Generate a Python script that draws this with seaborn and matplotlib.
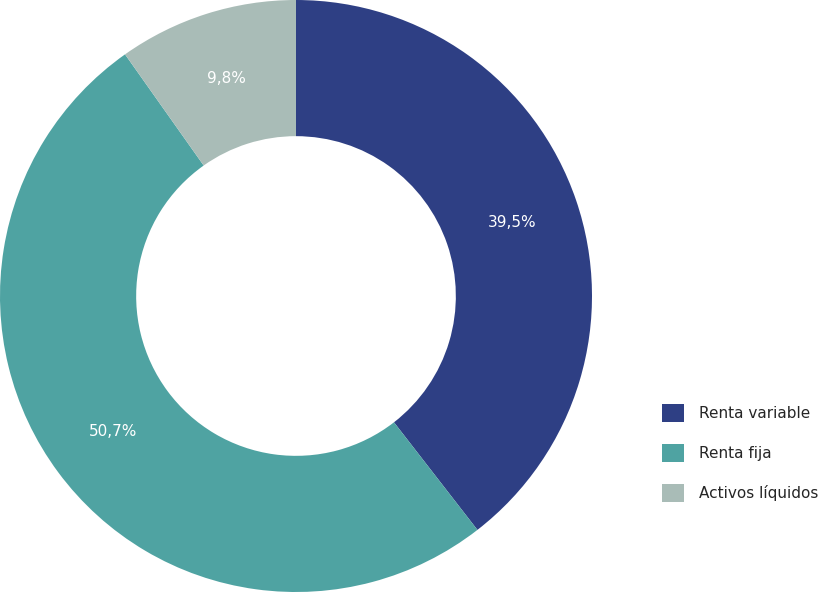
import matplotlib
matplotlib.use("Agg")
import matplotlib.pyplot as plt
import seaborn as sns

sns.set_style("white")
plt.rcParams['font.family'] = ['DejaVu Sans']

labels = ['Renta variable', 'Renta fija', 'Activos líquidos']
values = [39.5, 50.7, 9.8]
colors = ['#2e3f84', '#4fa3a2', '#a9bcb7']

fig = plt.figure(figsize=(8.37, 5.92), dpi=100)
ax = fig.add_axes([0, 0, 592 / 837, 1])
wedges, texts, autotexts = ax.pie(
    values, colors=colors, startangle=90, counterclock=False,
    radius=1.0, wedgeprops=dict(width=0.46, edgecolor='none'),
    autopct=lambda p: f'{p:.1f}%'.replace('.', ','), pctdistance=0.77,
    textprops=dict(color='white', fontsize=11))
ax.set_xlim(-1, 1)
ax.set_ylim(-1, 1)
ax.set_aspect('equal')

fig.legend(wedges, labels, loc='upper left', bbox_to_anchor=(0.775, 0.34),
           frameon=False, fontsize=11, handlelength=1.4, handleheight=1.4,
           labelspacing=1.45, handletextpad=1.0)

fig.savefig('out.png', dpi=100)
